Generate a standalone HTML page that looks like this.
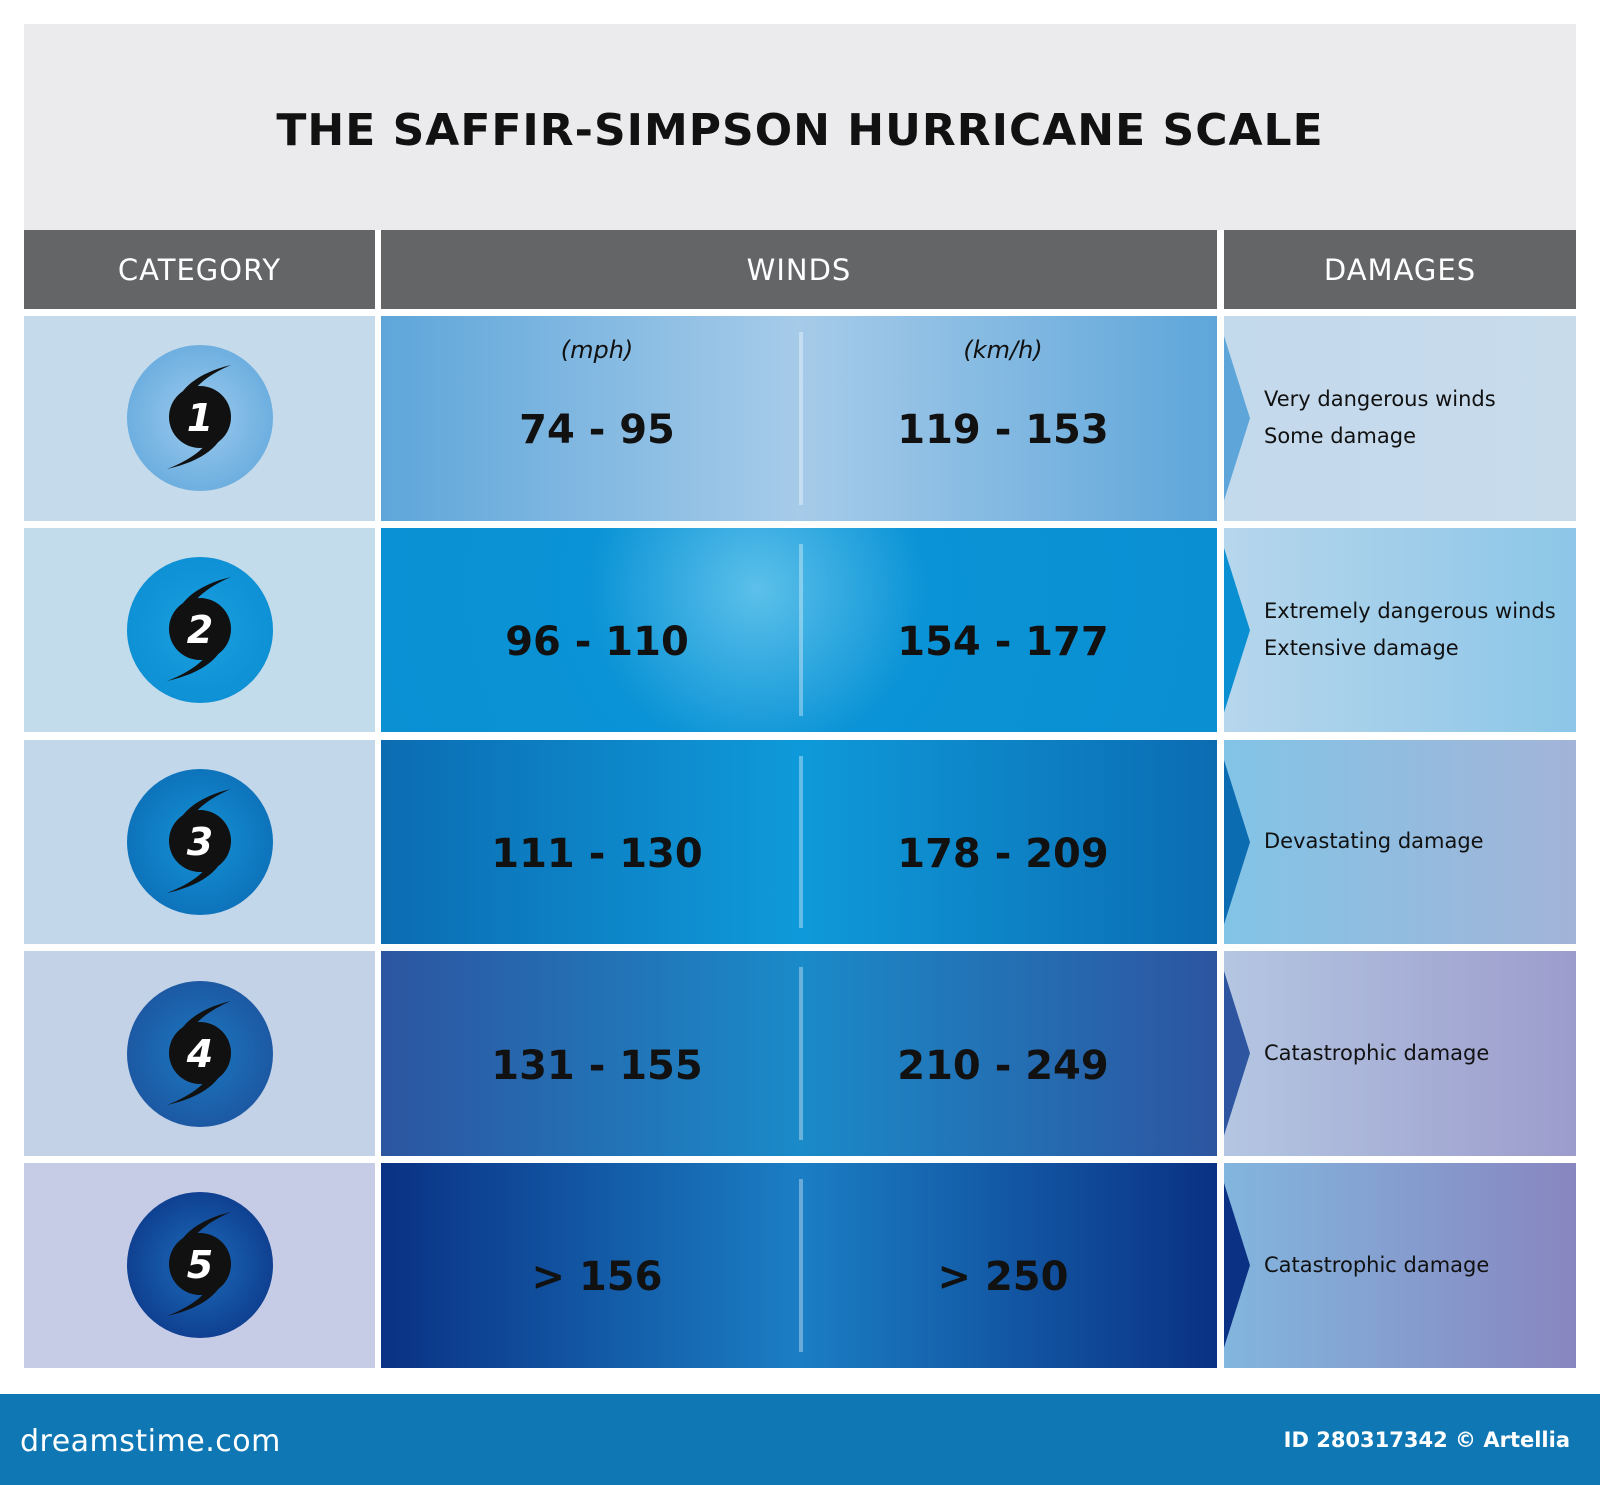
<!DOCTYPE html>
<html><head><meta charset="utf-8">
<style>
*{margin:0;padding:0;box-sizing:border-box}
body{width:1600px;height:1485px;background:#fff;position:relative;overflow:hidden;font-family:"DejaVu Sans","Liberation Sans",sans-serif}
.abs{position:absolute}
#title{left:24px;top:24px;width:1552px;height:206px;background:#ebebed;display:flex;align-items:center;justify-content:center;font-weight:bold;font-size:44px;letter-spacing:1px;color:#111;padding-top:6px}
.hdr{top:230px;height:79px;background:#646567;color:#fff;font-size:29px;display:flex;align-items:center;justify-content:center;letter-spacing:1px}
.cell{display:flex;align-items:center;justify-content:center}
.num{font-weight:bold;font-size:40px;color:#111}
.dmg{font-size:21px;color:#111;line-height:37px;padding-left:40px;justify-content:flex-start}
#footer{left:0;top:1394px;width:1600px;height:91px;background:#0f78b4}
</style></head><body>
<div id="title" class="abs">THE SAFFIR-SIMPSON HURRICANE SCALE</div>
<div class="abs hdr" style="left:24px;width:351px">CATEGORY</div>
<div class="abs hdr" style="left:381px;width:836px">WINDS</div>
<div class="abs hdr" style="left:1224px;width:352px">DAMAGES</div>
<div id="rows"></div>
<div id="footer" class="abs">
<div class="abs" style="left:20px;top:30px;color:#fff;font-size:30px;letter-spacing:0.5px">dreamstime.com</div>
<div class="abs" style="right:30px;top:34px;color:#fff;font-size:21px;font-weight:bold">ID 280317342 © Artellia</div>
</div>
<script>
const categories=["1","2","3","4","5"];
const mphValues=["74 - 95","96 - 110","111 - 130","131 - 155","> 156"];
const kmhValues=["119 - 153","154 - 177","178 - 209","210 - 249","> 250"];
const damageLines=[["Very dangerous winds","Some damage"],["Extremely dangerous winds","Extensive damage"],["Devastating damage"],["Catastrophic damage"],["Catastrophic damage"]];
const windBg=["linear-gradient(90deg,#5ea6da,#a6cbe9 50%,#5ea6da)","radial-gradient(circle at 45% 30%,#5cc0ea,#0a93d6 35%,#0a8fd2)","linear-gradient(90deg,#0c6cb2,#0e9ada 50%,#0c6cb2)","linear-gradient(90deg,#2d55a0,#1a8ac8 50%,#2d55a0)","linear-gradient(90deg,#0a3184,#1b7ec4 50%,#0a3184)"];
const dmgBg=["linear-gradient(90deg,#c3d9ec,#c7dbeb)","linear-gradient(90deg,#b6d6ec,#8cc6e8)","linear-gradient(90deg,#82c4e6,#a2b4d8)","linear-gradient(90deg,#b4c6e2,#9c9ccc)","linear-gradient(90deg,#82b6de,#8886c0)"];
const circBg=["radial-gradient(circle,#9ccbee,#5aa3da)","radial-gradient(circle,#1aa0e0,#0a8ad0)","radial-gradient(circle,#1592d6,#0a66b0)","radial-gradient(circle,#1a78c0,#1e4c98)","radial-gradient(circle,#1c6cba,#0a2e80)"];
const catBg=["#c5dbeb","#c3dcec","#c2d7ea","#c4d2e8","#c6cce6"];
const rows=document.getElementById('rows');
const top0=316,pitch=211.8,rh=204.5;
function y(i){return top0+i*pitch;}
categories.forEach((c,i)=>{
  const t=y(i);
  const cat=document.createElement('div');
  cat.className='abs cell';
  
  
  cat.style.cssText=`left:24px;top:${t}px;width:351px;height:${rh}px;background:${catBg[i]}`;
  cat.innerHTML=`<div style="width:146px;height:146px;border-radius:50%;background:${circBg[i]};position:relative">
  <svg width="146" height="146" viewBox="0 0 146 146" style="position:absolute;left:0;top:0">
  <circle cx="73" cy="72" r="31" fill="#111"/>
  <path d="M104 20 C70 28 50 45 48 65 L60 60 C62 45 80 30 104 20Z" fill="#111"/>
  <path d="M40 124 C76 116 96 100 98 80 L86 84 C84 100 66 114 40 124Z" fill="#111"/>
  <text x="73" y="86" text-anchor="middle" font-family="DejaVu Sans" font-weight="bold" font-style="italic" font-size="38" fill="#fff">${c}</text></svg></div>`;
  rows.appendChild(cat);
  const w=document.createElement('div');
  w.className='abs';
  
  
  w.style.cssText=`left:381px;top:${t}px;width:836px;height:${rh}px;background:${windBg[i]}`;
  const ny=rh/2-40+(i===0?12:12);
  w.innerHTML=`<div class="abs" style="left:418px;top:16px;width:4px;height:${rh-32}px;background:rgba(255,255,255,0.35)"></div>`+
   (i===0?`<div class="abs" style="left:0;width:432px;top:20px;text-align:center;font-size:24px;font-style:italic;color:#111">(mph)</div><div class="abs" style="left:412px;width:420px;top:20px;text-align:center;font-size:24px;font-style:italic;color:#111">(km/h)</div>`:'')+
   `<div class="abs cell num" style="left:0;width:432px;top:${ny}px;height:80px">${mphValues[i]}</div>`+
   `<div class="abs cell num" style="left:412px;width:420px;top:${ny}px;height:80px">${kmhValues[i]}</div>`;
  rows.appendChild(w);
  const d=document.createElement('div');
  d.className='abs cell dmg';
  
  
  d.style.cssText+=`left:1224px;top:${t}px;width:352px;height:${rh}px;background:${dmgBg[i]}`;
  d.innerHTML=`<svg class="abs" style="left:0;top:20px" width="26" height="${rh-40}"><polygon points="0,0 26,${(rh-40)/2} 0,${rh-40}" fill="${['#5ea6da','#0a8fd2','#0c6cb2','#2d55a0','#0a3184'][i]}"/></svg><div style="position:relative">${damageLines[i].join('<br>')}</div>`;
  rows.appendChild(d);
});
</script>
</body></html>
